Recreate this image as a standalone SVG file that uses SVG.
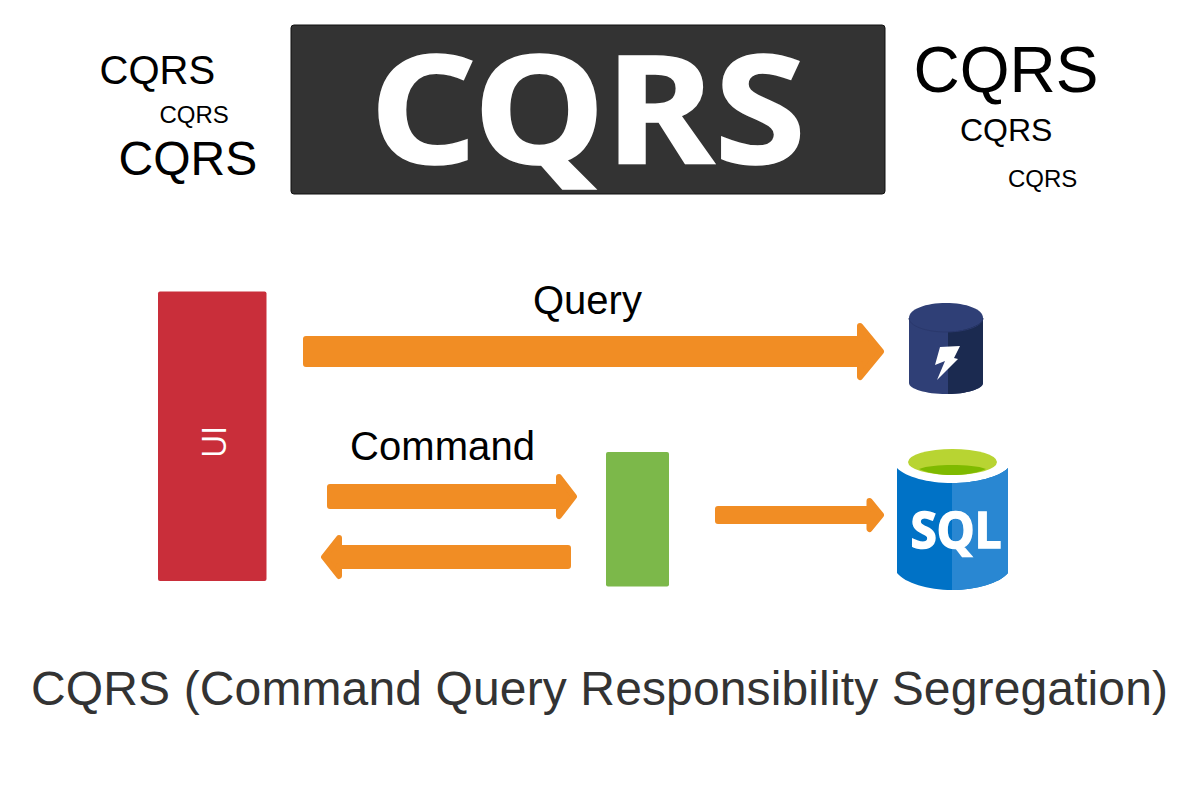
<svg xmlns="http://www.w3.org/2000/svg" width="1200" height="787" viewBox="0 0 1200 787">
<style>
text{font-family:"Liberation Sans",Arial,sans-serif;fill:#000}
.arrow{fill:#f18d24;stroke:#f18d24;stroke-width:6;stroke-linejoin:round}
.hero{font-family:"Noto Sans","Open Sans",sans-serif;font-weight:700;font-size:150px;fill:#fff;stroke:#fff;stroke-width:1.500px}
.lbl{font-size:40px}
</style>
<rect width="1200" height="787" fill="#fff"/>
<g id="title">
<rect x="291" y="25" width="594" height="169" rx="3" fill="#333" stroke="#111" stroke-width="1"/>
<text class="hero" x="370" y="163" textLength="436" lengthAdjust="spacingAndGlyphs">CQRS</text>
</g>
<g id="cqrs-left">
<text x="99.500" y="84" font-size="40">CQRS</text>
<text x="159.500" y="122.500" font-size="24">CQRS</text>
<text x="118.500" y="175" font-size="48">CQRS</text>
</g>
<g id="cqrs-right">
<text x="913.500" y="92" font-size="64">CQRS</text>
<text x="960" y="141" font-size="32">CQRS</text>
<text x="1008" y="187" font-size="24">CQRS</text>
</g>
<g id="ui">
<rect x="158" y="291.500" width="108.500" height="289.500" rx="2" fill="#c92e3a"/>
<text transform="translate(226 458) rotate(-90)" font-size="32" style="fill:#fff;font-family:'Open Sans',sans-serif;font-weight:400">UI</text>
</g>
<g id="connectors">
<path class="arrow" d="M306 339H860V326L881 351.500L860 377V364H306Z"/>
<path class="arrow" d="M330 487H559V477L574 496.500L559 516V506H330Z"/>
<path class="arrow" d="M568 548H339V538L324 557L339 576V566H568Z"/>
<path class="arrow" d="M718 509H869.500V501L881 515L869.500 529V521H718Z"/>
</g>
<g id="labels">
<text class="lbl" x="533" y="314">Query</text>
<text class="lbl" x="350" y="460" textLength="185">Command</text>
</g>
<g id="service">
<rect x="606" y="452" width="63" height="134.500" rx="2" fill="#7cb84a"/>
</g>
<g id="cache">
<path d="M909 318C909 309 926 303 946 303C966 303 983 309 983 318V383C983 389 966 394 946 394C926 394 909 389 909 383Z" fill="#2f3f76"/>
<path d="M948 332C966 331 983 325 983 318V383C983 389 966 394 948 394Z" fill="#1b2a50"/>
<path d="M909 318C909 326 926 332 946 332C966 332 983 326 983 318" fill="none" stroke="#2a386c" stroke-width="1"/>
<polygon points="940,347 960,346 954,358 958,359 937,380 945,361 935,365" fill="#fff"/>
</g>
<g id="sql">
<path d="M897 468C906 477 928 483 952 483C976 483 999 477 1008 468V573C1000 583 976 590 952 590C928 590 905 583 897 573Z" fill="#0072c6"/>
<path d="M952 483C976 483 999 477 1008 468V573C1000 583 976 590 952 590Z" fill="#2987d2"/>
<ellipse cx="952.500" cy="462" rx="44.500" ry="13" fill="#b8d432"/>
<path d="M919 469C927 466 939 465 952 465C966 465 978 466 986 469C977 473 965 475 952 475C940 475 928 473 919 469Z" fill="#7fba00"/>
<text x="956" y="548" text-anchor="middle" textLength="91" lengthAdjust="spacingAndGlyphs" style="font-family:'Noto Sans',sans-serif;font-weight:700;font-size:50px;fill:#fff;stroke:#fff;stroke-width:1.500px">SQL</text>
</g>
<g id="caption">
<text x="31" y="705" font-size="48" textLength="1137" style="fill:#333">CQRS (Command Query Responsibility Segregation)</text>
</g>
</svg>
